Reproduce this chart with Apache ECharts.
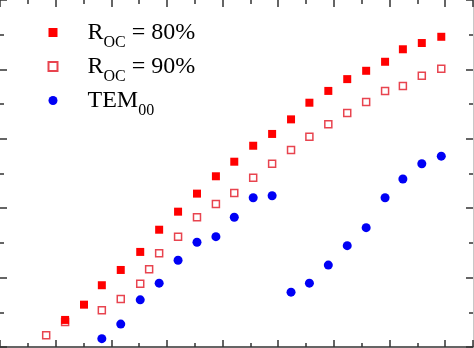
<!DOCTYPE html>
<html><head><meta charset="utf-8">
<script src="https://cdn.jsdelivr.net/npm/echarts@6/dist/echarts.min.js"></script>
<style>html,body{margin:0;padding:0;background:#fff;overflow:hidden}#c{width:474px;height:348px}</style>
</head><body><div id="c"></div>
<script>
// Series names (underscore marks the subscript part)
const names = ['R_OC = 80%', 'R_OC = 90%', 'TEM_00'];

// R_OC = 80% (filled squares)
const x80 = [1.17, 1.51, 1.83, 2.17, 2.52, 2.86, 3.20, 3.54, 3.88, 4.21, 4.55, 4.89, 5.23, 5.56, 5.90, 6.24, 6.58, 6.92, 7.24, 7.58, 7.93];
const y80 = [0.39, 0.61, 0.89, 1.11, 1.37, 1.69, 1.95, 2.21, 2.46, 2.67, 2.90, 3.07, 3.28, 3.52, 3.69, 3.86, 3.98, 4.11, 4.29, 4.38, 4.47];

// R_OC = 90% (open squares)
const x90 = [0.83, 1.17, 1.83, 2.17, 2.52, 2.68, 2.86, 3.20, 3.54, 3.88, 4.21, 4.55, 4.89, 5.23, 5.56, 5.90, 6.24, 6.58, 6.92, 7.24, 7.58, 7.93];
const y90 = [0.17, 0.36, 0.53, 0.69, 0.91, 1.12, 1.35, 1.59, 1.87, 2.06, 2.22, 2.44, 2.64, 2.84, 3.03, 3.21, 3.37, 3.53, 3.69, 3.76, 3.91, 4.01];

// TEM00 (filled circles)
const xTem = [1.83, 2.17, 2.52, 2.86, 3.20, 3.54, 3.88, 4.21, 4.55, 4.89, 5.23, 5.56, 5.90, 6.24, 6.58, 6.92, 7.24, 7.58, 7.93];
const yTem = [0.12, 0.33, 0.68, 0.92, 1.25, 1.51, 1.59, 1.87, 2.15, 2.18, 0.79, 0.92, 1.18, 1.46, 1.72, 2.15, 2.42, 2.64, 2.75];

const xMin = 0, xMax = 8.5, xStep = 1;
const yMin = 0, yMax = 5, yStep = 1;

const pairs = (xs, ys) => xs.map((x, i) => [x, ys[i]]);

function richName(n) {
  const m = n.match(/^([A-Za-z]+)_([A-Za-z0-9]+)(.*)$/);
  if (!m) return '{m|' + n + '}';
  return '{m|' + m[1] + '}{s|' + m[2] + '}' + (m[3] ? '{m|' + m[3] + '}' : '');
}

const tickStyle = { color: '#333', width: 1.5 };
function xAxisDef(pos) {
  return {
    type: 'value', position: pos, min: xMin, max: xMax, interval: xStep,
    axisLine: { show: pos === 'bottom', onZero: false, lineStyle: { color: '#333', width: 1.5 } },
    axisTick: { show: true, inside: true, length: 7, lineStyle: tickStyle },
    minorTick: { show: true, splitNumber: 2, length: 4, lineStyle: tickStyle },
    axisLabel: { show: false }, splitLine: { show: false }, minorSplitLine: { show: false }
  };
}
function yAxisDef(pos) {
  return {
    type: 'value', position: pos, min: yMin, max: yMax, interval: yStep,
    axisLine: { show: pos === 'right', onZero: false, lineStyle: { color: '#c8c8c8', width: 1 } },
    axisTick: { show: true, inside: true, length: 7, lineStyle: tickStyle },
    minorTick: { show: true, splitNumber: 2, length: 4, lineStyle: tickStyle },
    axisLabel: { show: false }, splitLine: { show: false }, minorSplitLine: { show: false }
  };
}

const chart = echarts.init(document.getElementById('c'), null, { renderer: 'canvas' });
chart.setOption({
  animation: false,
  backgroundColor: '#fff',
  grid: { left: 0, right: 1, top: 0, bottom: 1, containLabel: false },
  xAxis: [xAxisDef('bottom'), xAxisDef('top')],
  yAxis: [yAxisDef('left'), yAxisDef('right')],
  legend: {
    data: names,
    orient: 'vertical',
    left: 47.5, top: 14.5,
    padding: 0,
    itemWidth: 9, itemHeight: 9,
    itemGap: -2,
    selectedMode: false,
    formatter: richName,
    textStyle: {
      padding: [0, 0, 0, 25],
      rich: {
        m: { fontFamily: 'Liberation Serif', fontSize: 24, color: '#000', lineHeight: 24 },
        s: { fontFamily: 'Liberation Serif', fontSize: 16, color: '#000', lineHeight: 15, padding: [20, 0, 0, 0] }
      }
    }
  },
  series: [
    {
      name: names[1], type: 'scatter', xAxisIndex: 0, yAxisIndex: 0,
      symbol: 'rect', symbolSize: 7,
      itemStyle: { color: '#ffffff', borderColor: '#e8444f', borderWidth: 1.5, opacity: 1 },
      data: pairs(x90, y90)
    },
    {
      name: names[0], type: 'scatter', xAxisIndex: 0, yAxisIndex: 0,
      symbol: 'rect', symbolSize: 8,
      itemStyle: { color: '#ff0000', opacity: 1 },
      data: pairs(x80, y80)
    },
    {
      name: names[2], type: 'scatter', xAxisIndex: 0, yAxisIndex: 0,
      symbol: 'circle', symbolSize: 9,
      itemStyle: { color: '#0000f5', opacity: 1 },
      data: pairs(xTem, yTem)
    }
  ]
});
</script>
</body></html>
